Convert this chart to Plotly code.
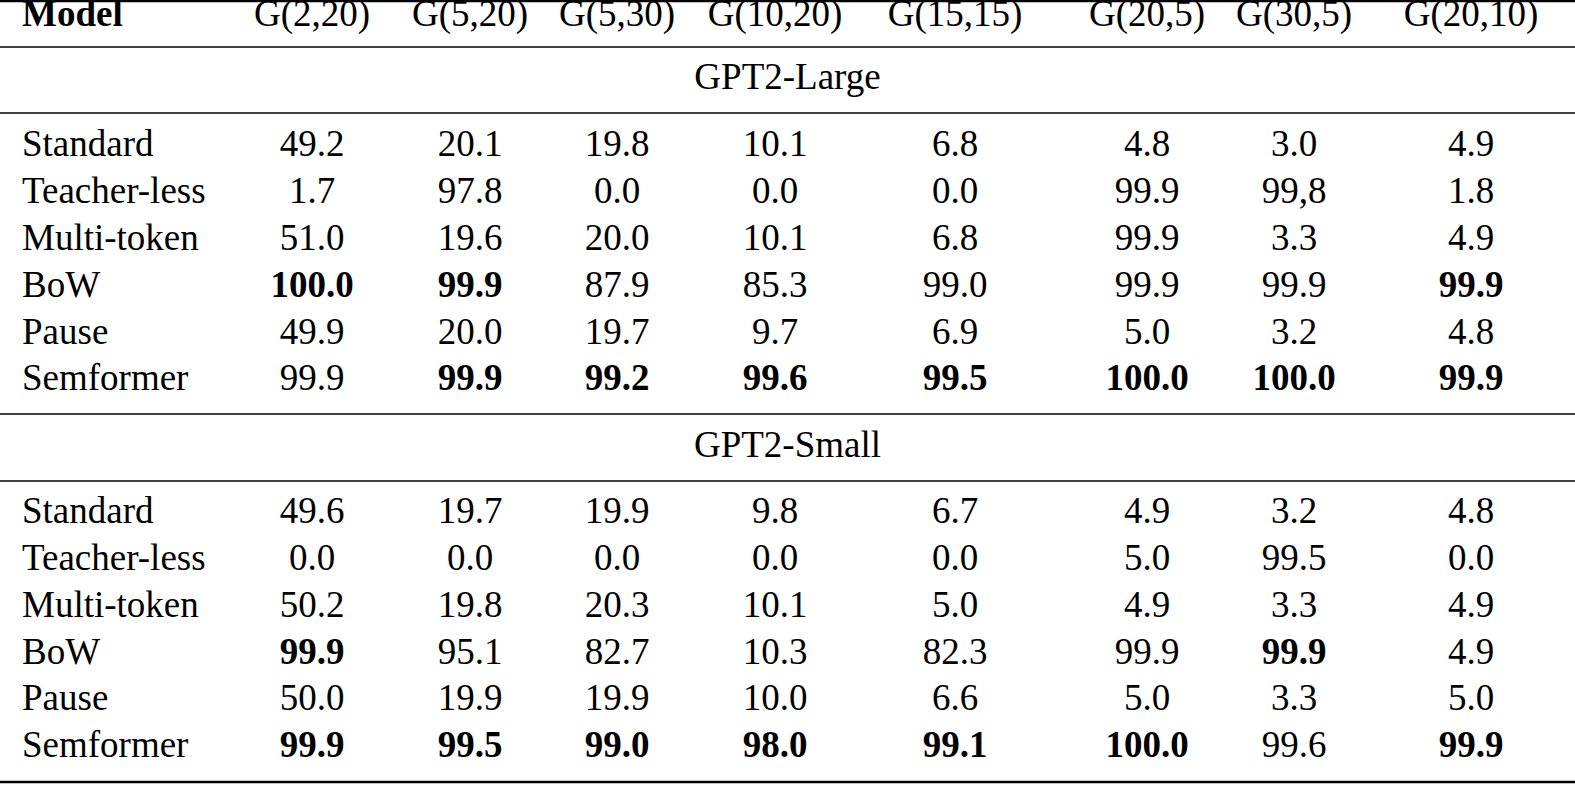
import plotly.graph_objects as go

columns = ["Model", "G(2,20)", "G(5,20)", "G(5,30)", "G(10,20)", "G(15,15)", "G(20,5)", "G(30,5)", "G(20,10)"]
models = ["Standard", "Teacher-less", "Multi-token", "BoW", "Pause", "Semformer"]
large = [
    ["49.2", "20.1", "19.8", "10.1", "6.8", "4.8", "3.0", "4.9"],
    ["1.7", "97.8", "0.0", "0.0", "0.0", "99.9", "99,8", "1.8"],
    ["51.0", "19.6", "20.0", "10.1", "6.8", "99.9", "3.3", "4.9"],
    ["100.0", "99.9", "87.9", "85.3", "99.0", "99.9", "99.9", "99.9"],
    ["49.9", "20.0", "19.7", "9.7", "6.9", "5.0", "3.2", "4.8"],
    ["99.9", "99.9", "99.2", "99.6", "99.5", "100.0", "100.0", "99.9"],
]
large_bold = [
    [0]*8, [0]*8, [0]*8,
    [1, 1, 0, 0, 0, 0, 0, 1],
    [0]*8,
    [0, 1, 1, 1, 1, 1, 1, 1],
]
small = [
    ["49.6", "19.7", "19.9", "9.8", "6.7", "4.9", "3.2", "4.8"],
    ["0.0", "0.0", "0.0", "0.0", "0.0", "5.0", "99.5", "0.0"],
    ["50.2", "19.8", "20.3", "10.1", "5.0", "4.9", "3.3", "4.9"],
    ["99.9", "95.1", "82.7", "10.3", "82.3", "99.9", "99.9", "4.9"],
    ["50.0", "19.9", "19.9", "10.0", "6.6", "5.0", "3.3", "5.0"],
    ["99.9", "99.5", "99.0", "98.0", "99.1", "100.0", "99.6", "99.9"],
]
small_bold = [
    [0]*8, [0]*8, [0]*8,
    [1, 0, 0, 0, 0, 0, 1, 0],
    [0]*8,
    [1, 1, 1, 1, 1, 1, 0, 1],
]
groups = ["GPT2-Large", "GPT2-Small"]

# layout (pixel coordinates)
col_x = [312, 470, 617, 775, 955, 1147, 1294, 1471]
model_x = 22
header_y = 17
group_y = [80, 448]
row_y = [[147, 194, 241, 288, 335, 381], [514, 561, 608, 655, 701, 748]]
lines = [(1, 2.5), (47, 1.5), (113, 1.5), (414, 1.5), (481, 1.5), (782, 2.5)]

FONT = "Liberation Serif, Times New Roman, serif"
FS = 37
fig = go.Figure()

def add_text(xs, ys, texts, pos="middle center"):
    fig.add_trace(go.Scatter(x=xs, y=ys, text=texts, mode="text", textposition=pos,
                             textfont=dict(family=FONT, size=FS, color="black"),
                             hoverinfo="skip", showlegend=False, cliponaxis=False))

add_text([model_x], [header_y], ["<b>" + columns[0] + "</b>"], "middle right")
add_text(col_x, [header_y]*8, columns[1:])
for gi, (vals, bold) in enumerate([(large, large_bold), (small, small_bold)]):
    add_text([787.5], [group_y[gi]], [groups[gi]])
    for ri, m in enumerate(models):
        y = row_y[gi][ri]
        add_text([model_x], [y], [m], "middle right")
        add_text(col_x, [y]*8, [("<b>%s</b>" % v) if b else v for v, b in zip(vals[ri], bold[ri])])

for y, w in lines:
    fig.add_shape(type="line", x0=0, x1=1575, y0=y, y1=y, line=dict(color="black", width=w))

fig.update_layout(width=1575, height=790, margin=dict(l=0, r=0, t=0, b=0),
                  plot_bgcolor="white", paper_bgcolor="white",
                  xaxis=dict(range=[0, 1575], visible=False, fixedrange=True),
                  yaxis=dict(range=[790, 0], visible=False, fixedrange=True))
fig.write_html("out.html", config={"displayModeBar": False},
               post_script="document.body.style.margin='0';document.body.style.overflow='hidden';")
